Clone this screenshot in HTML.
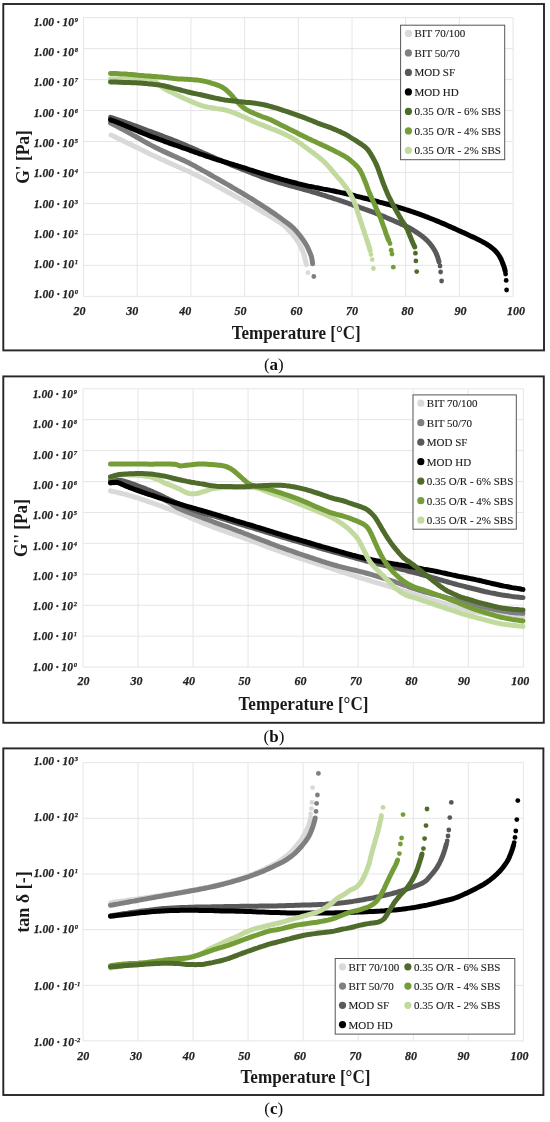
<!DOCTYPE html>
<html lang="en"><head><meta charset="utf-8"><title>Figure</title>
<style>
html,body{margin:0;padding:0;background:#fff}
svg{display:block}
text{font-family:"Liberation Serif", "DejaVu Serif", serif;fill:#222}
.yl{font-size:11.5px;font-weight:bold;font-style:italic;stroke:#222;stroke-width:0.25px}
.sup{font-size:6.5px}
.xl{font-size:12px;font-weight:bold;font-style:italic;text-anchor:middle;stroke:#222;stroke-width:0.25px}
.at{font-size:18px;font-weight:bold;text-anchor:middle;fill:#1a1a1a}
.lg{font-size:11px;fill:#1c1c1c;stroke:#1c1c1c;stroke-width:0.12px}
.cap{font-size:17px;text-anchor:middle;fill:#111}
</style></head><body>
<svg width="550" height="1122" viewBox="0 0 550 1122">
<rect width="550" height="1122" fill="#fff"/>
<rect x="3.3" y="4" width="540.7" height="346.4" fill="#fff" stroke="#262626" stroke-width="1.9"/>
<path d="M83.5 17.6V296.4M137.2 17.6V296.4M190.9 17.6V296.4M244.6 17.6V296.4M298.3 17.6V296.4M352 17.6V296.4M405.7 17.6V296.4M459.4 17.6V296.4M513.1 17.6V296.4M83.5 17.6H513.1M83.5 48.6H513.1M83.5 79.6H513.1M83.5 110.5H513.1M83.5 141.5H513.1M83.5 172.5H513.1M83.5 203.5H513.1M83.5 234.4H513.1M83.5 265.4H513.1M83.5 296.4H513.1" fill="none" stroke="#e3e3e3" stroke-width="0.9"/>
<text x="33.8" y="25.7" class="yl">1.00 · 10<tspan class="sup" dx="0.8" dy="-4">9</tspan></text>
<text x="33.8" y="56" class="yl">1.00 · 10<tspan class="sup" dx="0.8" dy="-4">8</tspan></text>
<text x="33.8" y="86.3" class="yl">1.00 · 10<tspan class="sup" dx="0.8" dy="-4">7</tspan></text>
<text x="33.8" y="116.6" class="yl">1.00 · 10<tspan class="sup" dx="0.8" dy="-4">6</tspan></text>
<text x="33.8" y="146.9" class="yl">1.00 · 10<tspan class="sup" dx="0.8" dy="-4">5</tspan></text>
<text x="33.8" y="177.2" class="yl">1.00 · 10<tspan class="sup" dx="0.8" dy="-4">4</tspan></text>
<text x="33.8" y="207.5" class="yl">1.00 · 10<tspan class="sup" dx="0.8" dy="-4">3</tspan></text>
<text x="33.8" y="237.8" class="yl">1.00 · 10<tspan class="sup" dx="0.8" dy="-4">2</tspan></text>
<text x="33.8" y="268.1" class="yl">1.00 · 10<tspan class="sup" dx="0.8" dy="-4">1</tspan></text>
<text x="33.8" y="298.4" class="yl">1.00 · 10<tspan class="sup" dx="0.8" dy="-4">0</tspan></text>
<text x="79.6" y="315.2" class="xl">20</text>
<text x="132.3" y="315.2" class="xl">30</text>
<text x="185.2" y="315.2" class="xl">40</text>
<text x="240.4" y="315.2" class="xl">50</text>
<text x="296.4" y="315.2" class="xl">60</text>
<text x="352" y="315.2" class="xl">70</text>
<text x="407.5" y="315.2" class="xl">80</text>
<text x="460.4" y="315.2" class="xl">90</text>
<text x="516" y="315.2" class="xl">100</text>
<text x="296.2" y="339.1" class="at" textLength="129" lengthAdjust="spacingAndGlyphs">Temperature [°C]</text>
<text transform="translate(28.9 157) rotate(-90)" class="at" textLength="53.7" lengthAdjust="spacingAndGlyphs">G' [Pa]</text>
<polyline points="111,135 112.3,135.6 114.1,136.5 116.3,137.5 118.6,138.7 121,139.8 123.3,140.9 125.4,141.9 127.5,142.9 129.5,143.9 131.4,144.8 133.3,145.7 135.2,146.7 137.3,147.7 139.2,148.6 141.1,149.6 143.1,150.6 145,151.5 147,152.5 149,153.5 150.9,154.4 152.8,155.3 154.6,156.1 156.4,157 158.2,157.8 160,158.7 161.8,159.5 163.6,160.3 165.7,161.2 167.7,162.2 169.7,163.1 171.8,164 174,165 176.3,166 178.2,166.9 180.2,167.8 182.3,168.7 184.5,169.7 186.7,170.6 188.8,171.6 190.8,172.5 192.7,173.4 194.7,174.4 196.6,175.3 198.4,176.1 200.1,177 201.9,177.9 203.6,178.8 205.4,179.7 207.2,180.7 209.1,181.6 210.9,182.6 212.7,183.7 214.5,184.7 216.4,185.7 218.2,186.7 220,187.7 221.8,188.7 223.6,189.7 225.5,190.8 227.3,191.8 229.1,192.8 230.9,193.8 232.7,194.8 234.5,195.8 236.3,196.8 238.2,197.8 240,198.8 241.8,199.8 243.6,200.8 245.4,201.8 247.2,202.9 249,203.9 250.9,204.9 252.7,206 254.5,207 256.3,208.1 258.1,209.2 260,210.3 261.8,211.4 263.6,212.5 265.4,213.6 267.3,214.7 269.1,215.8 271,216.9 272.9,218.1 274.8,219.3 276.7,220.4 278.5,221.6 280.3,222.7 281.8,223.8 283.7,225.3 285.3,226.7 286.7,228.1 288,229.5 289.4,230.9 290.8,232.4 292.1,233.9 293.4,235.4 294.6,237 295.8,238.6 297.2,240.7 298.5,242.8 299.8,244.9 300.9,247 301.9,249.2 302.8,251.3 303.6,253.4 304.2,255.3 304.9,258.2 305.4,260.6 306,262.9 306.5,264.6" fill="none" stroke="#d9d9d9" stroke-width="5" stroke-linecap="round" stroke-linejoin="round"/>
<circle cx="308" cy="272.7" r="2.4" fill="#d9d9d9"/>
<polyline points="110.5,123 111.8,123.7 113.8,124.7 116,125.8 118,126.9 119.8,127.8 121.4,128.7 123.2,129.6 125.4,130.8 127.1,131.7 129,132.8 131,133.9 133,135.1 135.2,136.3 137.3,137.5 139.2,138.5 141.1,139.6 143.1,140.8 145,141.9 147,143 149,144.1 150.9,145.1 152.8,146.1 154.6,147 156.4,147.9 158.2,148.8 160,149.7 161.8,150.5 163.6,151.4 165.8,152.4 168,153.4 170.2,154.4 172.4,155.4 174.4,156.3 176.3,157.1 178.8,158.2 181,159.2 183,160.1 185,161 186.9,161.9 188.6,162.8 190.4,163.7 192.7,164.9 194.3,165.7 196,166.7 197.8,167.7 199.7,168.7 201.6,169.8 203.5,170.9 205.4,171.9 207.2,172.9 209.1,174 210.9,175 212.7,176.1 214.5,177.1 216.4,178.2 218.2,179.2 220,180.2 221.8,181.3 223.6,182.3 225.5,183.4 227.3,184.4 229.1,185.4 230.9,186.5 232.7,187.6 234.5,188.6 236.3,189.7 238.2,190.8 240,191.8 241.8,192.9 243.6,194 245.4,195.1 247.2,196.2 249,197.3 250.9,198.4 252.7,199.5 254.5,200.7 256.3,201.8 258.1,203 260,204.1 261.8,205.3 263.6,206.5 265.4,207.7 267.3,208.9 269.1,210.1 270.9,211.3 272.8,212.6 274.7,213.9 276.5,215.2 278.4,216.5 280.1,217.8 281.8,219 283.7,220.4 285.5,221.7 287.2,222.9 288.9,224.2 290.5,225.5 292,226.8 293.7,228.4 295.3,230.1 296.8,231.7 298.2,233.5 299.6,235.2 301,237 302.4,238.9 303.7,240.8 304.9,242.7 306,244.5 307.2,246.6 308.2,248.6 309,250.5 309.8,252.3 310.6,254.4 311.3,256.2 311.8,258.1 312.3,261.3 312.6,263.8" fill="none" stroke="#7f7f7f" stroke-width="5" stroke-linecap="round" stroke-linejoin="round"/>
<circle cx="313.8" cy="276.5" r="2.4" fill="#7f7f7f"/>
<polyline points="110.5,117.4 112.4,118 115.2,118.9 118,119.8 120.3,120.6 122.6,121.4 125.4,122.4 127.1,123 129,123.7 131,124.4 133,125.2 135.2,125.9 137.3,126.7 139.2,127.4 141.1,128.1 143.1,128.8 145,129.5 147,130.3 149,131 150.9,131.7 153.1,132.5 155.2,133.3 157.3,134.1 159.4,134.9 161.5,135.7 163.6,136.5 165.7,137.3 167.8,138.1 169.9,138.9 172.1,139.7 174.2,140.6 176.3,141.4 178.4,142.3 180.6,143.1 182.7,144 184.8,144.9 187,145.8 189.1,146.7 191.2,147.6 193.3,148.5 195.5,149.5 197.6,150.4 199.7,151.4 201.8,152.3 203.9,153.2 206,154.1 208.2,155.1 210.3,156 212.4,156.9 214.5,157.8 216.6,158.7 218.5,159.5 220.5,160.4 222.6,161.3 224.8,162.2 227.2,163.2 229,163.9 231,164.8 233.1,165.6 235.3,166.5 237.5,167.4 239.7,168.2 241.7,169.1 243.6,169.8 245.3,170.5 247.8,171.5 249.8,172.3 251.5,173 253.3,173.7 255.4,174.5 257.4,175.2 259.5,176 261.6,176.8 263.8,177.6 266,178.4 268.2,179.1 270.3,179.8 272.4,180.5 274.6,181.2 276.7,181.8 278.8,182.5 280.9,183.1 283,183.7 285.1,184.3 287.2,184.9 289.4,185.5 291.5,186 293.6,186.6 295.7,187.2 297.8,187.7 299.9,188.3 302,188.9 304.1,189.5 306.3,190.1 308.2,190.6 310.2,191.2 312.2,191.8 314.1,192.4 316.1,192.9 318.1,193.5 320,194.1 322.2,194.8 324.3,195.4 326.4,196.1 328.5,196.8 330.6,197.4 332.7,198.1 334.8,198.8 336.9,199.5 339,200.2 341.2,200.9 343.3,201.6 345.4,202.3 347.5,203 349.7,203.8 351.8,204.5 353.9,205.3 356.1,206 358.2,206.8 360.3,207.6 362.4,208.3 364.6,209.1 366.7,209.8 368.8,210.6 370.9,211.4 373,212.2 375.1,213 377.2,213.8 379.4,214.7 381.5,215.5 383.6,216.4 385.7,217.3 387.8,218.2 389.9,219.1 392.1,220 394.2,221 396.3,221.9 398.1,222.7 400,223.5 401.9,224.4 403.8,225.2 405.6,226.1 407.4,226.9 409.1,227.8 411.3,229 413.5,230.3 415.5,231.6 417.4,232.9 419.2,234.1 421.2,235.5 422.9,236.8 424.5,238.2 426,239.5 427.8,241.3 429.5,243.1 431,245 432.5,247 433.8,249 435,251 436,253 436.9,255.1 437.6,257 438.5,259.9 439,262" fill="none" stroke="#595959" stroke-width="5" stroke-linecap="round" stroke-linejoin="round"/>
<circle cx="440" cy="266" r="2.4" fill="#595959"/>
<circle cx="440.6" cy="272" r="2.4" fill="#595959"/>
<circle cx="441.6" cy="281" r="2.4" fill="#595959"/>
<polyline points="110.5,119.8 111.8,120.3 113.8,121 116,121.8 118,122.6 119.8,123.3 121.4,124 123.2,124.8 125.4,125.7 127.1,126.4 129,127.2 131,128.1 133,129 135.2,129.9 137.3,130.8 139.2,131.6 141.1,132.4 143.1,133.2 145,134 147,134.8 149,135.6 150.9,136.3 153.1,137.1 155.2,137.9 157.3,138.7 159.4,139.5 161.5,140.2 163.6,141 165.7,141.8 167.8,142.5 169.9,143.3 172.1,144 174.2,144.8 176.3,145.5 178.4,146.2 180.6,147 182.7,147.8 184.8,148.5 187,149.2 189.1,150 191.2,150.8 193.3,151.5 195.5,152.3 197.6,153 199.7,153.8 201.8,154.5 203.9,155.2 206,156 208.2,156.7 210.3,157.4 212.4,158.1 214.5,158.8 216.6,159.5 218.6,160.1 220.7,160.7 222.8,161.3 224.9,162 227.2,162.7 229,163.3 230.9,163.9 232.9,164.5 234.9,165.1 237,165.7 239,166.3 240.9,166.9 242.7,167.5 245,168.2 247.1,168.9 249.2,169.6 251.3,170.2 253.3,170.8 255.4,171.5 257.5,172.2 259.7,172.8 261.8,173.5 263.9,174.1 266.1,174.8 268.2,175.4 270.3,176 272.4,176.7 274.6,177.3 276.7,177.9 278.8,178.5 280.9,179.1 283,179.7 285.1,180.3 287.2,180.8 289.4,181.4 291.5,182 293.6,182.5 295.7,183 297.8,183.6 299.9,184.1 302.1,184.6 304.2,185.1 306.3,185.6 308.4,186.1 310.5,186.5 312.6,186.9 314.8,187.4 316.9,187.8 319.1,188.2 321.3,188.6 323.6,189.1 325.9,189.5 328.2,189.9 330.5,190.4 332.7,190.8 334.9,191.2 337,191.7 339.1,192.1 341.2,192.6 343.3,193 345.4,193.5 347.5,194 349.7,194.5 351.8,195 353.9,195.5 356.1,196.1 358.2,196.6 360.3,197.1 362.4,197.7 364.6,198.2 366.7,198.7 368.8,199.3 370.9,199.8 373,200.4 375.1,200.9 377.2,201.5 379.4,202.1 381.5,202.6 383.6,203.2 385.7,203.8 387.8,204.3 389.9,204.9 392.1,205.5 394.2,206.1 396.3,206.7 398.4,207.3 400.6,208 402.8,208.6 405,209.3 407.1,210 409.1,210.6 411.4,211.4 413.6,212.1 415.8,212.9 417.9,213.6 420,214.4 422.1,215.2 424.1,215.9 426,216.7 428,217.4 430,218.2 432,219 434,219.8 436,220.6 438,221.4 440,222.2 442,223.1 444,223.9 446,224.8 448,225.7 450,226.6 452,227.5 454,228.4 456,229.3 458,230.2 460,231.1 462,232 464,232.9 466,233.8 468,234.8 470,235.7 472,236.6 474.1,237.6 476.1,238.5 478.1,239.5 480,240.4 482.2,241.6 484.2,242.7 486.2,243.9 488,245 490.2,246.5 492.2,248.1 494,249.6 496.2,251.8 498,254 499.6,256.5 501,259 502.1,261.6 503,264 503.8,266.1 504.4,268 505.2,271" fill="none" stroke="#000000" stroke-width="5" stroke-linecap="round" stroke-linejoin="round"/>
<circle cx="505.6" cy="274" r="2.4" fill="#000000"/>
<circle cx="506.2" cy="280.4" r="2.4" fill="#000000"/>
<circle cx="506.6" cy="290" r="2.4" fill="#000000"/>
<polyline points="110.5,78.9 111.8,78.9 113.5,78.9 115.5,78.9 117.8,78.9 120.2,78.9 122.7,78.9 125.2,78.9 127.7,79 130,79 132.1,79 134.2,78.9 136.4,78.9 138.7,78.8 140.9,78.7 143.1,78.7 145.2,78.7 147.2,78.9 149.1,79.1 150.9,79.5 153.1,80.3 155.1,81.5 156.9,82.8 158.6,84.3 160.2,85.7 161.9,87.1 163.6,88.3 165.4,89.3 167.2,90.3 169,91.2 170.9,92.1 172.7,93 174.5,93.8 176.3,94.7 178.1,95.6 180,96.4 181.8,97.3 183.6,98.2 185.4,99 187.3,99.8 189.1,100.6 191.2,101.5 193.3,102.4 195.5,103.3 197.6,104.1 199.7,104.9 201.8,105.6 203.9,106.2 206,106.7 208.2,107.1 210.3,107.4 212.4,107.8 214.5,108.2 216.6,108.6 218.6,108.9 220.7,109.1 222.8,109.5 224.9,109.9 227.2,110.5 229,111.1 230.9,111.7 232.9,112.5 234.9,113.3 237,114.1 239,114.9 240.9,115.7 242.7,116.5 245,117.5 247.1,118.5 249.2,119.5 251.3,120.4 253.3,121.4 255.4,122.3 257.5,123.2 259.7,124.1 261.8,124.9 263.9,125.7 266.1,126.6 268.2,127.4 270.3,128.2 272.4,129.1 274.6,129.9 276.7,130.7 278.8,131.6 280.9,132.5 282.7,133.3 284.5,134.2 286.3,135 288.2,135.9 290,136.9 291.8,137.8 293.6,138.9 295.4,140 297.2,141.2 299,142.5 300.9,143.8 302.7,145.1 304.5,146.5 306.3,147.8 307.9,149 309.6,150.2 311.3,151.5 313,152.7 314.6,154 316.2,155.2 317.7,156.4 319.1,157.5 321.1,159.2 322.8,160.7 324.5,162.2 326,163.8 327.6,165.4 329.2,167.1 330.7,168.9 332.3,170.8 333.8,172.6 335.3,174.4 336.8,176.2 338.4,178 340,179.7 341.5,181.5 342.9,183.3 344.3,185.1 345.6,186.8 346.9,188.6 348.1,190.3 349.3,192.2 350.4,194.1 351.5,196.1 352.5,198.1 353.5,200.2 354.4,202.3 355.1,204.1 355.8,206 356.4,208 357,209.9 357.6,211.9 358.2,213.8 358.8,215.7 359.5,217.6 360.1,219.5 360.7,221.4 361.4,223.3 362,225.2 362.6,227.2 363.3,229.2 364,231.2 364.6,233.2 365.2,235 365.8,236.7 366.5,238.9 367.2,240.8 367.8,242.6 368.3,244.3 369,246.8 369.7,249.1 370.1,250.7" fill="none" stroke="#c2da9e" stroke-width="5" stroke-linecap="round" stroke-linejoin="round"/>
<circle cx="370.9" cy="254.5" r="2.4" fill="#c2da9e"/>
<circle cx="372.2" cy="259.6" r="2.4" fill="#c2da9e"/>
<circle cx="373.4" cy="268.5" r="2.4" fill="#c2da9e"/>
<polyline points="110.5,73.4 111.9,73.5 113.7,73.5 116,73.6 118.4,73.7 120.9,73.9 123.3,74 125.4,74.1 127.7,74.3 129.8,74.4 131.9,74.6 134,74.8 136.1,75 138.2,75.2 140.3,75.4 142.4,75.6 144.6,75.8 146.7,75.9 148.8,76.1 150.9,76.3 153,76.5 155.1,76.6 157.2,76.7 159.4,76.9 161.5,77 163.6,77.2 165.7,77.4 167.8,77.7 169.9,78 172.1,78.2 174.2,78.5 176.3,78.7 178.4,78.9 180.6,79 182.7,79.1 184.8,79.2 187,79.3 189.1,79.4 191.3,79.6 193.4,79.7 195.6,79.9 197.8,80.1 199.8,80.4 201.8,80.7 204,81.1 206.1,81.6 208,82.1 210,82.7 212,83.3 214.1,83.9 216.2,84.6 218.2,85.3 220.2,86.2 222.1,87.1 224.2,88.5 226.3,90.1 228.1,91.8 229.8,93.4 231.2,94.9 232.5,96.3 233.7,97.8 235.1,99.4 236.5,100.9 238,102.5 239.5,104.2 241.1,105.7 242.7,107.1 244.6,108.5 246.4,109.6 248.3,110.6 250.4,111.7 252.3,112.6 254.3,113.5 256.3,114.3 258.4,115.2 260.5,116 262.5,116.8 264.6,117.5 266.6,118.2 268.7,119 270.7,119.8 272.7,120.7 274.7,121.7 276.6,122.7 278.7,123.8 280.9,124.9 282.6,125.7 284.3,126.6 286.2,127.5 288,128.4 289.9,129.4 291.8,130.3 293.6,131.2 295.4,132.1 297.2,133 299,134 300.9,134.9 302.7,135.8 304.5,136.7 306.3,137.6 308.1,138.5 310,139.3 311.8,140.2 313.6,141 315.4,141.8 317.3,142.7 319.1,143.5 320.9,144.4 322.7,145.2 324.5,146.1 326.4,146.9 328.2,147.8 330,148.7 331.8,149.6 333.7,150.5 335.6,151.5 337.5,152.4 339.4,153.4 341.2,154.4 343,155.3 344.5,156.2 346.8,157.6 348.6,158.9 350.3,160.3 352.1,161.8 353.6,163.1 355.1,164.6 356.7,166 358.1,167.7 359.4,169.4 360.6,171.3 361.6,173.3 362.6,175.4 363.5,177.7 364.5,180 365.2,181.8 366,183.7 366.7,185.6 367.4,187.6 368.1,189.6 368.9,191.6 369.6,193.4 370.5,195.4 371.3,197.4 372.2,199.3 373,201.1 373.9,203 374.7,204.9 375.6,206.8 376.4,208.8 377.3,210.7 378.2,212.6 379,214.5 379.8,216.3 380.7,218.4 381.4,220.5 382.2,222.6 382.9,224.6 383.6,226.5 384.5,228.9 385.3,231.3 386,233.5 386.7,235.4 387.9,238.5 388.7,240.5" fill="none" stroke="#749d38" stroke-width="5" stroke-linecap="round" stroke-linejoin="round"/>
<circle cx="390" cy="243.5" r="2.4" fill="#749d38"/>
<circle cx="391.2" cy="250.2" r="2.4" fill="#749d38"/>
<circle cx="392" cy="254" r="2.4" fill="#749d38"/>
<circle cx="393.3" cy="267.2" r="2.4" fill="#749d38"/>
<polyline points="110.5,81.9 111.9,82 113.7,82 116,82.1 118.4,82.2 120.9,82.3 123.3,82.4 125.4,82.5 127.7,82.6 129.8,82.6 131.9,82.7 134,82.7 136.1,82.8 138.2,82.9 140.3,83 142.4,83.2 144.6,83.4 146.7,83.6 148.8,83.9 150.9,84.1 153,84.3 155.1,84.6 157.2,84.8 159.4,85.1 161.5,85.4 163.6,85.8 165.7,86.2 167.8,86.7 169.9,87.2 172.1,87.8 174.2,88.4 176.3,88.9 178.4,89.4 180.6,90 182.7,90.6 184.8,91.1 187,91.7 189.1,92.2 191.2,92.7 193.3,93.2 195.5,93.6 197.6,94.1 199.7,94.5 201.8,95 203.9,95.5 206,96 208.2,96.5 210.3,97 212.4,97.5 214.5,98 216.6,98.4 218.6,98.8 220.7,99.2 222.8,99.6 224.9,100 227.2,100.3 229.3,100.6 231.5,100.8 233.8,101.1 236.1,101.3 238.4,101.6 240.6,101.8 242.7,102 245,102.2 247.1,102.4 249.2,102.6 251.3,102.8 253.3,103 255.4,103.3 257.5,103.6 259.7,104 261.8,104.4 263.9,104.8 266.1,105.3 268.2,105.8 270.3,106.4 272.4,107 274.6,107.6 276.7,108.2 278.8,108.9 280.9,109.6 283,110.3 285.1,111 287.2,111.7 289.4,112.4 291.5,113.2 293.6,113.9 295.7,114.6 297.8,115.4 299.9,116.2 302.1,116.9 304.2,117.7 306.3,118.5 308.4,119.3 310.6,120.2 312.7,121 314.8,121.9 317,122.8 319.1,123.6 321.2,124.4 323.3,125.1 325.5,125.9 327.6,126.6 329.7,127.4 331.8,128.2 334,129.1 336.2,130 338.4,131 340.6,131.9 342.6,132.9 344.5,133.8 346.5,134.9 348.3,135.9 349.9,137 351.5,138 353.1,139 355.1,140.2 357,141.4 358.9,142.6 360.7,143.8 362.4,145 364.1,146.2 365.6,147.4 367.1,148.9 368.5,150.6 369.7,152.4 371,154.4 372.2,156.5 373.2,158.3 374.2,160.2 375.3,162.2 376.3,164.4 377.3,166.7 378,168.5 378.7,170.5 379.4,172.5 380.2,174.6 380.9,176.7 381.6,178.7 382.3,180.7 383.1,182.9 383.9,185 384.8,187.1 385.6,189.2 386.5,191.3 387.4,193.4 388.2,195.2 389.1,197.1 390.1,199 391,200.8 391.9,202.6 392.9,204.4 393.8,206.2 394.9,208.2 395.9,210.1 397,212.1 398.1,213.9 399.1,215.8 400.2,217.6 401.5,219.7 402.8,221.8 404.2,223.9 405.4,225.9 406.5,227.8 407.7,230.2 408.6,232.5 409.5,234.7 410.3,236.7 411.3,239.1 412.1,241.3 412.9,243.1 414,245.4 414.7,246.9" fill="none" stroke="#4f6b2b" stroke-width="5" stroke-linecap="round" stroke-linejoin="round"/>
<circle cx="415.4" cy="253.2" r="2.4" fill="#4f6b2b"/>
<circle cx="415.9" cy="260.9" r="2.4" fill="#4f6b2b"/>
<circle cx="416.7" cy="271.6" r="2.4" fill="#4f6b2b"/>
<rect x="400.6" y="25.2" width="104.1" height="134.5" fill="#fff" stroke="#555" stroke-width="1"/>
<circle cx="408.4" cy="33.4" r="3.6" fill="#d9d9d9"/>
<text x="414.4" y="37.3" class="lg">BIT 70/100</text>
<circle cx="408.4" cy="52.9" r="3.6" fill="#7f7f7f"/>
<text x="414.4" y="56.8" class="lg">BIT 50/70</text>
<circle cx="408.4" cy="72.4" r="3.6" fill="#595959"/>
<text x="414.4" y="76.3" class="lg">MOD SF</text>
<circle cx="408.4" cy="91.9" r="3.6" fill="#000000"/>
<text x="414.4" y="95.8" class="lg">MOD HD</text>
<circle cx="408.4" cy="111.4" r="3.6" fill="#4f6b2b"/>
<text x="414.4" y="115.3" class="lg">0.35 O/R - 6% SBS</text>
<circle cx="408.4" cy="130.9" r="3.6" fill="#749d38"/>
<text x="414.4" y="134.8" class="lg">0.35 O/R - 4% SBS</text>
<circle cx="408.4" cy="150.4" r="3.6" fill="#c2da9e"/>
<text x="414.4" y="154.3" class="lg">0.35 O/R - 2% SBS</text>
<text x="273.8" y="369.7" class="cap">(<tspan font-weight="bold">a</tspan>)</text>
<rect x="3.3" y="376.4" width="540.5" height="346.4" fill="#fff" stroke="#262626" stroke-width="1.9"/>
<path d="M83 388.8V667.1M138.1 388.8V667.1M193.1 388.8V667.1M248.1 388.8V667.1M303.2 388.8V667.1M358.2 388.8V667.1M413.3 388.8V667.1M468.3 388.8V667.1M523.4 388.8V667.1M83 388.8H523.4M83 419.7H523.4M83 450.6H523.4M83 481.6H523.4M83 512.5H523.4M83 543.4H523.4M83 574.3H523.4M83 605.3H523.4M83 636.2H523.4M83 667.1H523.4" fill="none" stroke="#e3e3e3" stroke-width="0.9"/>
<text x="32.8" y="398.1" class="yl">1.00 · 10<tspan class="sup" dx="0.8" dy="-4">9</tspan></text>
<text x="32.8" y="428.4" class="yl">1.00 · 10<tspan class="sup" dx="0.8" dy="-4">8</tspan></text>
<text x="32.8" y="458.6" class="yl">1.00 · 10<tspan class="sup" dx="0.8" dy="-4">7</tspan></text>
<text x="32.8" y="488.9" class="yl">1.00 · 10<tspan class="sup" dx="0.8" dy="-4">6</tspan></text>
<text x="32.8" y="519.2" class="yl">1.00 · 10<tspan class="sup" dx="0.8" dy="-4">5</tspan></text>
<text x="32.8" y="549.5" class="yl">1.00 · 10<tspan class="sup" dx="0.8" dy="-4">4</tspan></text>
<text x="32.8" y="579.7" class="yl">1.00 · 10<tspan class="sup" dx="0.8" dy="-4">3</tspan></text>
<text x="32.8" y="610" class="yl">1.00 · 10<tspan class="sup" dx="0.8" dy="-4">2</tspan></text>
<text x="32.8" y="640.3" class="yl">1.00 · 10<tspan class="sup" dx="0.8" dy="-4">1</tspan></text>
<text x="32.8" y="670.5" class="yl">1.00 · 10<tspan class="sup" dx="0.8" dy="-4">0</tspan></text>
<text x="83.6" y="685.2" class="xl">20</text>
<text x="136.5" y="685.2" class="xl">30</text>
<text x="189.1" y="685.2" class="xl">40</text>
<text x="244.6" y="685.2" class="xl">50</text>
<text x="300.5" y="685.2" class="xl">60</text>
<text x="356" y="685.2" class="xl">70</text>
<text x="411.5" y="685.2" class="xl">80</text>
<text x="464.1" y="685.2" class="xl">90</text>
<text x="520.2" y="685.2" class="xl">100</text>
<text x="303.5" y="709.6" class="at" textLength="130" lengthAdjust="spacingAndGlyphs">Temperature [°C]</text>
<text transform="translate(26.9 528) rotate(-90)" class="at" textLength="57.8" lengthAdjust="spacingAndGlyphs">G'' [Pa]</text>
<polyline points="110.5,490.9 111.9,491.2 113.7,491.6 116,492.1 118.4,492.7 120.9,493.3 123.3,493.9 125.4,494.4 127.7,495 129.8,495.6 131.9,496.2 134,496.9 136.1,497.5 138.2,498.2 140.3,498.9 142.4,499.6 144.6,500.3 146.7,501 148.8,501.8 150.9,502.5 153,503.2 155.1,504 157.2,504.7 159.4,505.5 161.5,506.2 163.6,507 165.7,507.8 167.8,508.6 169.9,509.4 172.1,510.2 174.2,511.1 176.3,511.9 178.4,512.8 180.6,513.6 182.7,514.5 184.8,515.4 187,516.3 189.1,517.2 191.2,518.1 193.3,519 195.5,519.9 197.6,520.8 199.7,521.7 201.8,522.6 203.9,523.5 206,524.3 208.2,525.2 210.3,526 212.4,526.8 214.5,527.6 216.6,528.4 218.7,529.2 220.8,529.9 223,530.7 225.1,531.4 227.2,532.2 229.4,533 231.6,533.7 233.8,534.5 235.9,535.2 238,535.9 240,536.6 242.2,537.4 244.2,538.1 246.1,538.8 248,539.5 250,540.2 252,540.9 254,541.7 256,542.5 258,543.2 260,544 262,544.8 264,545.5 266,546.3 268,547.1 270,547.8 272,548.5 274,549.3 276,550 278,550.7 280,551.4 282,552.1 284,552.8 286,553.5 288,554.2 290,554.9 292,555.6 294,556.3 296,557 298,557.6 300,558.3 302,559 304,559.6 306,560.2 308,560.9 310,561.5 312,562.1 314,562.8 316,563.4 318,564.1 320,564.7 322,565.4 324,566 326,566.7 328,567.3 330,568 332,568.7 334,569.3 336,570 338,570.6 340,571.3 342,571.9 344,572.6 346,573.2 348,573.9 350,574.5 352.4,575.3 354.9,576 357.2,576.8 359.5,577.5 361.6,578.2 363.7,578.8 365.7,579.4 367.7,580 369.8,580.6 371.8,581.3 373.8,581.9 375.9,582.5 377.9,583.1 380,583.7 382.1,584.3 384.1,584.9 386.2,585.5 388.2,586.1 390.3,586.8 392.3,587.4 394.4,588 396.6,588.7 398.7,589.3 400.5,589.9 402.8,590.6 405,591.4 406.8,592 408.9,592.6 411.1,593.3 413.2,594 415.3,594.7 417.3,595.3 419.4,596 421.4,596.6 423.4,597.2 425.4,597.9 427.5,598.5 429.5,599.1 431.5,599.7 433.6,600.4 435.6,601 437.7,601.6 439.8,602.2 441.8,602.8 443.8,603.4 445.9,604 447.9,604.6 450,605.2 452.1,605.8 454.1,606.4 456.2,607 458.2,607.6 460.3,608.1 462.3,608.7 464.4,609.3 466.4,609.8 468.5,610.3 470.5,610.8 472.5,611.2 474.5,611.7 476.6,612 478.6,612.4 480.3,612.7 481.8,613 483.7,613.2 486.8,613.6 488.4,613.8 490.2,613.9 492.3,614.1 494.6,614.3 496.9,614.6 499.3,614.8 501.7,615 504,615.2 506.2,615.4 508.2,615.6 510,615.7 512.9,615.9 515.6,616.1 518,616.3 520,616.4 521.7,616.5 523,616.6" fill="none" stroke="#d9d9d9" stroke-width="5" stroke-linecap="round" stroke-linejoin="round"/>
<polyline points="110.5,483 112.4,482.8 115.1,482.5 117.8,482.6 119.6,483.1 121.3,483.8 123.1,484.6 125.4,485.6 127.2,486.3 129.3,487.2 131.5,488.1 133.7,489 136,489.9 138.2,490.7 140.3,491.4 142.4,492.1 144.6,492.7 146.7,493.3 148.8,493.9 150.9,494.6 153,495.3 155.1,496 157.2,496.7 159.4,497.5 161.5,498.3 163.6,499.3 165.5,500.3 167.5,501.4 169.5,502.7 171.5,503.9 173.3,505.1 175,506.2 176.3,507 178.4,508.3 180,509 181.8,509.8 184,510.6 186.4,511.6 189.1,512.6 191,513.3 193.1,514.1 195.2,515 197.4,515.8 199.6,516.7 201.8,517.5 203.9,518.3 206,519.1 208.2,519.9 210.3,520.7 212.4,521.5 214.5,522.3 216.6,523.1 218.7,523.8 220.8,524.6 223,525.4 225.1,526.1 227.2,526.9 229.4,527.7 231.6,528.5 233.8,529.3 235.9,530.2 238,531 240,531.7 242.2,532.5 244.2,533.3 246.1,534 248,534.7 250,535.5 252,536.3 254,537.1 256,537.8 258,538.6 260,539.4 262,540.2 264,540.9 266,541.7 268,542.4 270,543.2 272,544 274,544.7 276,545.5 278,546.3 280,547 282,547.7 284,548.4 286,549.1 288,549.8 290,550.5 292,551.2 294,551.9 296,552.6 298,553.3 300,554 302,554.7 304,555.3 306,556 308,556.6 310,557.3 312,558 314,558.6 316,559.3 318,559.9 320,560.6 322,561.3 324,561.9 326,562.6 328,563.2 330,563.8 332,564.4 334,565 336,565.5 338,566.1 340,566.6 342,567.1 344,567.6 346,568.1 348,568.6 350,569.1 352.4,569.7 354.9,570.3 357.2,570.8 359.5,571.4 361.6,571.9 363.7,572.4 365.7,573 367.7,573.5 369.8,574.1 371.8,574.7 373.8,575.3 375.9,575.9 377.9,576.5 380,577.1 382.1,577.8 384.1,578.4 386.2,579 388.2,579.7 390.3,580.3 392.3,581 394.4,581.7 396.6,582.5 398.7,583.2 400.5,583.8 402.8,584.6 405,585.4 406.8,586 408.9,586.8 411.1,587.6 413.2,588.3 415.3,589 417.3,589.6 419.4,590.3 421.4,590.9 423.4,591.5 425.4,592.1 427.5,592.6 429.5,593.2 431.5,593.8 433.6,594.3 435.6,594.9 437.7,595.4 439.8,595.9 441.8,596.4 443.8,597 445.9,597.5 447.9,598.1 450,598.6 452.1,599.2 454.1,599.8 456.2,600.3 458.2,600.9 460.3,601.4 462.3,601.9 464.4,602.4 466.4,603 468.5,603.5 470.5,604 472.5,604.5 474.5,605 476.6,605.4 478.6,605.9 480.5,606.4 482.4,606.8 484.4,607.3 486.8,607.8 488.7,608.2 490.9,608.7 493.3,609.2 495.7,609.7 497.9,610.2 500,610.6 502.2,611 504.1,611.3 505.9,611.6 507.9,611.9 510,612.2 512.1,612.4 514.6,612.7 517.1,612.9 519.5,613.1 521.6,613.3 523,613.4" fill="none" stroke="#7f7f7f" stroke-width="5" stroke-linecap="round" stroke-linejoin="round"/>
<polyline points="110.5,480.3 112.3,479.8 115.3,479.6 116.9,479.8 118.8,480.1 120.9,480.5 123.1,481 125.4,481.6 127.4,482.2 129.5,482.9 131.6,483.6 133.8,484.4 136,485.2 138.2,486 140.3,486.8 142.4,487.6 144.6,488.4 146.7,489.3 148.8,490.1 150.9,491 153,491.9 155.1,492.9 157.2,493.8 159.4,494.8 161.5,495.8 163.6,496.8 165.4,497.7 167.2,498.5 169,499.4 170.9,500.3 172.7,501.1 174.5,502 176.3,502.8 178.4,503.8 180.6,504.7 182.7,505.6 184.8,506.6 187,507.4 189.1,508.3 191.2,509.1 193.3,509.9 195.5,510.7 197.6,511.4 199.7,512.1 201.8,512.8 203.9,513.4 206,514 208.2,514.5 210.3,515.1 212.4,515.6 214.5,516.2 216.6,516.8 218.7,517.5 220.8,518.2 223,518.8 225.1,519.5 227.2,520.2 229.4,520.9 231.6,521.6 233.8,522.3 235.9,522.9 238,523.6 240,524.2 242.2,524.8 244.2,525.4 246.1,526 248,526.5 250,527.1 252,527.7 254,528.3 256,529 258,529.6 260,530.2 262,530.8 264,531.4 266,532.1 268,532.7 270,533.3 272,533.9 274,534.5 276,535.2 278,535.8 280,536.4 282,537 284,537.6 286,538.2 288,538.8 290,539.4 292,540 294,540.6 296,541.1 298,541.7 300,542.3 302,542.9 304,543.5 306,544 308,544.6 310,545.2 312,545.8 314,546.4 316,546.9 318,547.5 320,548.1 322,548.7 324,549.2 326,549.8 328,550.3 330,550.9 332,551.5 334,552 336,552.6 338,553.1 340,553.7 342,554.3 344,554.8 346,555.4 348,555.9 350,556.5 352.4,557.2 354.9,557.9 357.2,558.6 359.5,559.2 361.4,559.7 363.2,560.2 365.1,560.7 367.7,561.3 369.4,561.7 371.2,562.2 373.2,562.6 375.4,563.1 377.6,563.7 379.8,564.2 382,564.7 384.1,565.2 386.2,565.7 388.5,566.2 390.8,566.7 393,567.3 395.2,567.8 397.2,568.2 399,568.7 400.5,569 403.3,569.7 405,570.2 406.8,570.7 408.9,571.2 411.1,571.7 413.2,572.3 415.3,572.8 417.3,573.4 419.4,573.9 421.4,574.5 423.4,575 425.4,575.6 427.5,576.1 429.5,576.7 431.5,577.3 433.6,577.9 435.6,578.5 437.7,579.1 439.8,579.7 441.8,580.2 443.8,580.8 445.9,581.4 447.9,582 450,582.6 452.1,583.2 454.1,583.8 456.2,584.3 458.2,584.9 460.3,585.4 462.3,585.9 464.4,586.4 466.4,587 468.5,587.5 470.5,588 472.5,588.5 474.5,589 476.6,589.5 478.6,590 480.5,590.5 482.4,591 484.4,591.5 486.8,592 488.7,592.4 490.9,592.9 493.3,593.3 495.7,593.8 497.9,594.2 500,594.6 502.2,595 504.1,595.3 505.9,595.6 507.9,595.8 510,596.1 512.1,596.4 514.6,596.7 517.1,596.9 519.5,597.2 521.6,597.4 523,597.6" fill="none" stroke="#595959" stroke-width="5" stroke-linecap="round" stroke-linejoin="round"/>
<polyline points="110.5,482.8 112.4,482.6 115.1,482.4 117.8,482.6 119.6,483.1 121.3,483.9 123.1,484.8 125.4,485.8 127.2,486.5 129.3,487.3 131.5,488.1 133.7,489 136,489.8 138.2,490.6 140.3,491.4 142.4,492.1 144.6,492.8 146.7,493.6 148.8,494.3 150.9,495 153,495.7 155.1,496.4 157.2,497.1 159.4,497.8 161.5,498.5 163.6,499.2 165.7,499.9 167.8,500.5 169.9,501.2 172.1,501.8 174.2,502.5 176.3,503.1 178.4,503.7 180.6,504.4 182.7,505 184.8,505.7 187,506.3 189.1,506.9 191.2,507.5 193.3,508.1 195.5,508.7 197.6,509.3 199.7,509.9 201.8,510.5 203.9,511.1 206,511.7 208.2,512.3 210.3,512.9 212.4,513.6 214.5,514.2 216.6,514.8 218.7,515.5 220.8,516.1 223,516.8 225.1,517.4 227.2,518.1 229.4,518.8 231.6,519.4 233.8,520.1 235.9,520.8 238,521.4 240,522 242.2,522.6 244.2,523.2 246.1,523.8 248,524.3 250,524.9 252,525.5 254,526.1 256,526.8 258,527.4 260,528 262,528.6 264,529.2 266,529.9 268,530.5 270,531.1 272,531.7 274,532.3 276,533 278,533.6 280,534.2 282,534.8 284,535.4 286,536 288,536.6 290,537.2 292,537.8 294,538.4 296,538.9 298,539.5 300,540.1 302,540.7 304,541.3 306,541.8 308,542.4 310,543 312,543.6 314,544.2 316,544.8 318,545.4 320,546 322,546.6 324,547.1 326,547.7 328,548.2 330,548.8 332,549.4 334,550 336,550.5 338,551.1 340,551.7 342,552.3 344,552.8 346,553.4 348,554 350,554.5 352.4,555.2 354.9,555.8 357.2,556.4 359.5,557 361.6,557.5 363.7,558 365.7,558.5 367.7,558.9 369.8,559.3 371.8,559.8 373.8,560.2 375.9,560.6 377.9,561 380,561.4 382.1,561.7 384.1,562.1 386.2,562.5 388.2,562.9 390.3,563.2 392.3,563.6 394.4,564 396.6,564.3 398.7,564.7 400.5,565 402.8,565.4 405,565.8 406.8,566.1 408.9,566.5 411.1,566.8 413.2,567.2 415.3,567.6 417.3,568 419.4,568.3 421.4,568.7 423.4,569.1 425.4,569.4 427.5,569.7 429.5,570.1 431.5,570.5 433.6,570.9 435.6,571.3 437.7,571.7 439.8,572.1 441.8,572.6 443.8,573 445.9,573.5 447.9,574 450,574.4 452.1,574.9 454.1,575.3 456.2,575.7 458.2,576.2 460.3,576.6 462.3,577 464.4,577.4 466.4,577.8 468.5,578.2 470.5,578.6 472.5,579 474.5,579.4 476.6,579.9 478.6,580.3 480.5,580.7 482.4,581.2 484.4,581.6 486.8,582.2 488.7,582.6 490.9,583.2 493.3,583.7 495.7,584.2 497.9,584.7 500,585.2 502.2,585.7 504.1,586.1 505.9,586.4 507.9,586.8 510,587.2 512.1,587.6 514.6,588 517.1,588.4 519.5,588.8 521.6,589.2 523,589.4" fill="none" stroke="#000000" stroke-width="5" stroke-linecap="round" stroke-linejoin="round"/>
<polyline points="110.5,477 112.4,476.5 115.1,475.8 117.8,475.2 120.3,474.9 122.9,474.8 125.4,474.8 127.7,474.8 129.9,474.9 132,475 134.1,475.1 136.1,475.2 138.2,475.3 140.5,475.5 142.8,475.7 145,476 147.9,476.4 150.9,477 152.7,477.6 154.6,478.3 156.6,479.2 158.5,480 160.4,480.8 162.2,481.7 164.1,482.7 166.2,483.6 168.1,484.4 170.2,485.2 172.3,486 174.4,486.8 176.3,487.6 178.5,488.6 180.5,489.6 182.3,490.6 184,491.4 186.6,492.7 189.1,493.5 191.4,493.7 194.1,493.7 196.7,493.5 199.2,493 201.8,492.2 204.3,491.4 206.2,490.8 208,490.1 209.9,489.4 212,488.9 213.9,488.5 215.9,488.2 217.9,488 220,487.8 222.1,487.6 224.1,487.5 226.1,487.5 228,487.6 230.1,487.6 232.3,487.6 234.3,487.6 236.3,487.5 238.5,487.4 240.7,487.3 242.8,487.3 245,487.3 247.2,487.3 249.4,487.4 251.7,487.5 253.9,487.6 256,487.9 258,488.2 260.2,488.8 262.2,489.6 264.1,490.4 266,491.3 268.2,492.2 270.2,492.9 272.2,493.6 274.4,494.3 276.6,495 278.8,495.7 280.9,496.5 283,497.3 285.1,498.1 287.2,499 289.4,499.9 291.5,500.7 293.6,501.6 295.7,502.4 297.8,503.3 299.9,504.1 302.1,505 304.2,505.8 306.3,506.7 308.4,507.6 310.6,508.4 312.7,509.3 314.8,510.2 317,511.1 319.1,512 321.3,512.9 323.5,513.8 325.6,514.8 327.8,515.7 329.9,516.7 331.8,517.6 334,518.8 336,519.9 338,521.1 339.8,522.3 341.5,523.4 343.4,524.7 345.1,526 346.6,527.3 348.1,528.5 349.9,530.1 351.5,531.7 353,533.3 354.5,534.8 355.8,536.3 357.1,537.9 358.3,539.6 359.3,541.3 360.4,543.2 361.5,545.3 362.5,547.5 363.6,549.7 364.7,551.9 365.8,554.2 366.9,556.3 368,558.3 369,560.2 370.2,562 371.5,563.7 372.8,565.3 374.3,566.9 375.9,568.5 377.5,570.2 379.2,571.8 380.8,573.4 382.5,575.1 384.1,576.7 385.7,578.3 387.4,580 389,581.6 390.6,583.3 392.3,585 393.9,586.6 395.5,588.1 397.2,589.4 398.8,590.7 401.2,592.4 403.7,593.9 406.2,595.2 408.6,596.2 410.8,596.8 413.4,597.4 415.2,598 417.2,598.7 419.3,599.5 421.4,600.2 423.4,600.8 425.4,601.4 427.5,602.1 429.5,602.7 431.5,603.4 433.6,604.1 435.6,604.9 437.7,605.6 439.8,606.3 441.8,607 443.8,607.7 445.9,608.4 447.9,609.1 450,609.7 452.1,610.3 454.1,611 456.2,611.7 458.2,612.4 460.3,613.1 462.3,613.8 464.4,614.4 466.4,614.9 468.5,615.5 470.5,616 472.5,616.5 474.5,617.1 476.6,617.7 478.6,618.2 480.5,618.7 482.4,619.2 484.4,619.8 486.8,620.4 488.7,620.9 490.9,621.5 493.3,622 495.7,622.6 497.9,623.2 500,623.6 502.2,624 504.1,624.3 505.9,624.5 507.9,624.7 510,625 512.1,625.2 514.6,625.5 517.1,625.8 519.5,626 521.6,626.2 523,626.4" fill="none" stroke="#c2da9e" stroke-width="5" stroke-linecap="round" stroke-linejoin="round"/>
<polyline points="110.5,463.9 111.9,463.9 113.7,463.9 116,463.9 118.4,463.9 120.9,463.9 123.3,463.9 125.4,463.9 127.7,463.9 129.8,463.9 131.9,463.9 134,463.9 136.1,463.9 138.2,463.9 140.3,463.9 142.4,464 144.6,464.1 146.7,464.1 148.8,464.2 150.9,464.2 153,464.2 155.1,464.1 157.2,464 159.4,464 161.5,463.9 163.6,463.9 165.8,463.9 168.2,464 170.5,464.1 172.7,464.2 174.7,464.3 176.3,464.5 180,465.9 181.8,465.8 184.1,465.6 186.5,465.3 189.1,465 191.2,464.8 193.4,464.5 195.8,464.2 198.1,464 200.4,463.9 202.7,463.9 205,464 207.3,464.2 209.7,464.4 212,464.6 214.4,464.8 216.8,465 219.3,465.2 221.6,465.5 223.6,465.9 226.4,466.6 228.6,467.6 230.9,468.8 232.7,470 234.6,471.5 236.4,473 238.2,474.6 240.1,476.3 241.9,478 243.8,479.7 245.5,481.2 247.4,482.7 249.2,484 251.3,485 253.2,485.7 255.3,486.2 257.6,486.7 260,487.2 262,487.7 264,488.1 266.2,488.6 268.4,489.2 270.7,489.8 272.7,490.4 274.9,491.1 277.1,491.8 279.3,492.5 281.4,493.2 283.4,493.9 285.6,494.6 287.5,495.2 289.5,495.9 291.4,496.5 293.6,497.3 295.6,498 297.6,498.9 299.8,499.7 302,500.6 304.1,501.5 306.3,502.4 308.4,503.3 310.6,504.3 312.7,505.2 314.8,506.2 317,507.1 319.1,508 321.2,508.9 323.4,509.8 325.5,510.7 327.7,511.5 329.8,512.3 331.8,513 334.2,513.7 336.6,514.4 338.9,515 341.1,515.5 343.2,516.1 345.5,516.8 347.6,517.5 349.5,518.2 351.4,518.9 353.7,519.8 355.9,520.6 357.9,521.5 359.9,522.4 361.8,523.2 363.6,524.2 365.8,525.8 367.7,527.8 368.9,529.5 369.9,531.3 371,533.4 371.8,535.1 372.6,536.9 373.5,538.8 374.3,540.7 375.1,542.6 376,544.5 376.8,546.3 377.6,548.1 378.7,550.4 379.7,552.5 380.8,554.6 381.9,556.6 382.9,558.5 384.1,560.4 385.4,562.3 386.8,564.3 388.2,566.1 389.5,567.8 390.9,569.4 392.3,571 393.9,572.7 395.5,574.3 397.2,575.9 398.8,577.4 400.5,578.7 402.1,580 404.6,581.7 407,583.3 409.4,584.7 411.9,586 414.4,587.1 416.8,588 418.9,588.6 421.4,589.3 423.2,589.9 425.2,590.7 427.4,591.4 429.5,592.2 431.5,592.9 433.6,593.6 435.6,594.3 437.7,595 439.8,595.7 441.8,596.5 443.8,597.2 445.9,598 447.9,598.8 450,599.6 452.1,600.4 454.1,601.2 456.2,602 458.2,602.8 460.3,603.7 462.3,604.5 464.4,605.3 466.4,606.2 468.5,607 470.5,607.8 472.5,608.5 474.5,609.3 476.6,609.9 478.6,610.6 480.5,611.2 482.4,611.7 484.4,612.3 486.8,613 488.7,613.6 490.9,614.3 493.3,615 495.7,615.8 497.9,616.4 500,617 502.2,617.5 504.1,617.9 505.9,618.3 507.9,618.6 510,619 512.1,619.4 514.6,619.7 517.1,620.1 519.5,620.5 521.6,620.8 523,621" fill="none" stroke="#749d38" stroke-width="5" stroke-linecap="round" stroke-linejoin="round"/>
<polyline points="110.5,476.9 112.4,476.3 115.1,475.5 117.8,474.8 120.1,474.4 122.5,474.2 125.4,474 127.2,473.9 129.3,473.8 131.5,473.7 133.7,473.7 136,473.6 138.2,473.6 140.3,473.6 142.4,473.6 144.6,473.7 146.7,473.8 148.8,473.9 150.9,474.1 153,474.3 155.1,474.6 157.2,474.9 159.4,475.2 161.5,475.6 163.6,476 165.7,476.4 167.8,476.9 169.9,477.4 172.1,478 174.2,478.5 176.3,479 178.4,479.5 180.6,480 182.7,480.5 184.8,480.9 187,481.4 189.1,481.8 191.2,482.2 193.3,482.5 195.5,482.9 197.6,483.2 199.7,483.6 201.8,483.9 203.9,484.3 206,484.7 208.2,485.1 210.3,485.5 212.4,485.8 214.5,486.1 216.6,486.3 218.6,486.4 220.7,486.4 222.8,486.4 224.9,486.5 227.2,486.5 229.3,486.6 231.5,486.6 233.8,486.7 236.1,486.8 238.4,486.8 240.6,486.8 242.7,486.8 245,486.7 247.1,486.6 249.2,486.5 251.3,486.3 253.3,486.1 255.4,486 257.5,485.9 259.7,485.8 261.8,485.7 263.9,485.6 266.1,485.5 268.2,485.4 270.3,485.3 272.4,485.3 274.6,485.2 276.7,485.2 278.8,485.2 280.9,485.3 283,485.4 285.1,485.6 287.2,485.9 289.4,486.1 291.5,486.5 293.6,486.8 295.7,487.2 297.8,487.6 299.9,488.1 302.1,488.6 304.2,489.1 306.3,489.7 308.4,490.3 310.6,490.9 312.7,491.6 314.8,492.3 317,493 319.1,493.7 321.2,494.4 323.4,495.2 325.5,495.9 327.7,496.7 329.8,497.4 331.8,498 334.2,498.7 336.6,499.2 338.9,499.7 341.1,500.3 343.2,500.8 345.5,501.5 347.5,502.3 349.4,503 351.4,503.7 353.5,504.4 355.5,505 357.6,505.6 359.5,506.3 361.9,507.2 364.1,508.1 366.1,509.1 367.9,510.2 369.4,511.5 371,512.9 372.6,514.6 374.3,516.4 375.9,518.6 377.1,520.5 378.3,522.5 379.6,524.7 380.8,526.8 382,528.9 383.2,530.9 384.5,533 385.7,535 386.9,536.9 388.1,538.8 389.4,540.6 390.6,542.4 391.8,544.1 393.1,545.8 394.4,547.4 395.6,548.9 397.3,550.9 398.9,552.8 400.5,554.6 401.9,556.1 403.2,557.5 405,559 406.8,560.3 408.9,561.7 411.1,563.2 413.2,564.7 414.8,566 416.5,567.3 418.1,568.6 419.8,570 421.4,571.3 423,572.6 424.6,573.9 426.3,575.2 427.9,576.5 429.5,577.8 431.1,579.1 432.8,580.5 434.4,581.8 436.1,583.1 437.7,584.4 439.8,585.9 441.8,587.4 443.8,588.8 445.9,590.1 447.9,591.3 450,592.3 452.1,593.3 454.1,594.2 456.2,595.1 458.2,596 460.3,596.8 462.3,597.5 464.4,598.2 466.4,598.8 468.5,599.3 470.5,599.9 472.5,600.5 474.5,601.2 476.6,601.8 478.6,602.4 480.5,602.9 482.4,603.4 484.4,603.9 486.8,604.5 488.7,605 490.9,605.5 493.3,606.1 495.7,606.7 497.9,607.2 500,607.6 502.2,608 504.1,608.3 505.9,608.6 507.9,608.8 510,609 512.1,609.2 514.6,609.4 517.1,609.6 519.5,609.8 521.6,609.9 523,610" fill="none" stroke="#4f6b2b" stroke-width="5" stroke-linecap="round" stroke-linejoin="round"/>
<rect x="413" y="394.9" width="103.3" height="134.3" fill="#fff" stroke="#555" stroke-width="1"/>
<circle cx="420.8" cy="403.2" r="3.6" fill="#d9d9d9"/>
<text x="426.8" y="407.1" class="lg">BIT 70/100</text>
<circle cx="420.8" cy="422.7" r="3.6" fill="#7f7f7f"/>
<text x="426.8" y="426.6" class="lg">BIT 50/70</text>
<circle cx="420.8" cy="442.2" r="3.6" fill="#595959"/>
<text x="426.8" y="446.1" class="lg">MOD SF</text>
<circle cx="420.8" cy="461.7" r="3.6" fill="#000000"/>
<text x="426.8" y="465.6" class="lg">MOD HD</text>
<circle cx="420.8" cy="481.2" r="3.6" fill="#4f6b2b"/>
<text x="426.8" y="485.1" class="lg">0.35 O/R - 6% SBS</text>
<circle cx="420.8" cy="500.7" r="3.6" fill="#749d38"/>
<text x="426.8" y="504.6" class="lg">0.35 O/R - 4% SBS</text>
<circle cx="420.8" cy="520.2" r="3.6" fill="#c2da9e"/>
<text x="426.8" y="524.1" class="lg">0.35 O/R - 2% SBS</text>
<text x="273.9" y="741.8" class="cap">(<tspan font-weight="bold">b</tspan>)</text>
<rect x="3.3" y="748.4" width="540.1" height="346.6" fill="#fff" stroke="#262626" stroke-width="1.9"/>
<path d="M83 762.7V1040.9M138.1 762.7V1040.9M193.1 762.7V1040.9M248.1 762.7V1040.9M303.2 762.7V1040.9M358.2 762.7V1040.9M413.3 762.7V1040.9M468.3 762.7V1040.9M523.4 762.7V1040.9M83 762.7H523.4M83 818.3H523.4M83 874H523.4M83 929.6H523.4M83 985.3H523.4M83 1040.9H523.4" fill="none" stroke="#e3e3e3" stroke-width="0.9"/>
<text x="33.8" y="764.7" class="yl">1.00 · 10<tspan class="sup" dx="0.8" dy="-4">3</tspan></text>
<text x="33.8" y="820.9" class="yl">1.00 · 10<tspan class="sup" dx="0.8" dy="-4">2</tspan></text>
<text x="33.8" y="877.1" class="yl">1.00 · 10<tspan class="sup" dx="0.8" dy="-4">1</tspan></text>
<text x="33.8" y="933.3" class="yl">1.00 · 10<tspan class="sup" dx="0.8" dy="-4">0</tspan></text>
<text x="33.8" y="989.5" class="yl">1.00 · 10<tspan class="sup" dx="0.8" dy="-4">-1</tspan></text>
<text x="33.8" y="1045.7" class="yl">1.00 · 10<tspan class="sup" dx="0.8" dy="-4">-2</tspan></text>
<text x="83.2" y="1059.6" class="xl">20</text>
<text x="136" y="1059.6" class="xl">30</text>
<text x="188.7" y="1059.6" class="xl">40</text>
<text x="244.2" y="1059.6" class="xl">50</text>
<text x="300.1" y="1059.6" class="xl">60</text>
<text x="355.6" y="1059.6" class="xl">70</text>
<text x="410.9" y="1059.6" class="xl">80</text>
<text x="463.6" y="1059.6" class="xl">90</text>
<text x="519.6" y="1059.6" class="xl">100</text>
<text x="305.5" y="1083" class="at" textLength="130" lengthAdjust="spacingAndGlyphs">Temperature [°C]</text>
<text transform="translate(28.9 902) rotate(-90)" class="at" textLength="61.6" lengthAdjust="spacingAndGlyphs">tan δ [-]</text>
<polyline points="110.5,902.7 111.9,902.5 113.7,902.2 116,901.9 118.4,901.6 120.9,901.2 123.3,900.9 125.4,900.6 127.7,900.3 129.8,900 131.9,899.7 134,899.4 136.1,899.1 138.2,898.8 140.3,898.5 142.4,898.2 144.6,897.9 146.7,897.5 148.8,897.2 150.9,896.9 153,896.6 155.1,896.3 157.2,896 159.4,895.6 161.5,895.3 163.6,895 165.7,894.7 167.8,894.3 169.9,894 172.1,893.6 174.2,893.3 176.3,892.9 178.4,892.5 180.6,892.2 182.7,891.8 184.8,891.4 187,891.1 189.1,890.7 191.2,890.3 193.3,890 195.5,889.6 197.6,889.2 199.7,888.8 201.8,888.4 203.9,888 206,887.5 208.2,887.1 210.3,886.7 212.4,886.2 214.5,885.7 216.6,885.2 218.6,884.7 220.7,884.2 222.8,883.7 224.9,883.1 227.2,882.5 229,882 230.9,881.5 232.9,880.9 234.9,880.4 237,879.8 239,879.2 240.9,878.6 242.7,878 245,877.2 247.1,876.5 249.2,875.7 251.3,874.9 253.3,874.1 255.4,873.2 257.2,872.4 259.1,871.6 261,870.7 262.9,869.8 264.8,869 266.5,868.1 268.2,867.3 270.4,866.2 272.5,865.1 274.5,864.1 276.3,863.1 278,862.1 280.3,860.6 282.1,859.2 284,857.7 286,856.2 288,854.6 290,852.8 291.5,851.3 293.1,849.6 294.6,847.9 296,846.3 297.3,844.7 298.6,843.2 299.8,841.6 301,840 302.1,838.3 303.1,836.5 304.1,834.7 305,833 306.1,830.9 307.1,829 308,827 308.8,824.9 309.5,822.8 310,821 310.6,818" fill="none" stroke="#d9d9d9" stroke-width="5" stroke-linecap="round" stroke-linejoin="round"/>
<circle cx="310.6" cy="814" r="2.4" fill="#d9d9d9"/>
<circle cx="311.4" cy="808.6" r="2.4" fill="#d9d9d9"/>
<circle cx="312" cy="802.4" r="2.4" fill="#d9d9d9"/>
<circle cx="312.6" cy="787.6" r="2.4" fill="#d9d9d9"/>
<polyline points="110.5,905.3 111.9,905.1 113.7,904.7 116,904.3 118.4,903.9 120.9,903.4 123.3,903 125.4,902.6 127.7,902.2 129.8,901.8 131.9,901.4 134,901.1 136.1,900.7 138.2,900.3 140.3,899.9 142.4,899.5 144.6,899.1 146.7,898.8 148.8,898.4 150.9,898 153,897.6 155.1,897.2 157.2,896.8 159.4,896.5 161.5,896.1 163.6,895.7 165.7,895.3 167.8,895 169.9,894.6 172.1,894.2 174.2,893.9 176.3,893.5 178.4,893.1 180.6,892.7 182.7,892.4 184.8,892 187,891.6 189.1,891.2 191.2,890.8 193.3,890.4 195.5,890.1 197.6,889.7 199.7,889.3 201.8,888.9 203.9,888.5 206,888 208.2,887.6 210.3,887.1 212.4,886.7 214.5,886.2 216.6,885.7 218.6,885.2 220.7,884.8 222.8,884.3 224.9,883.7 227.2,883.1 229,882.6 230.9,882.1 232.9,881.5 234.9,880.9 237,880.3 239,879.8 240.9,879.2 242.7,878.6 245,877.9 247.1,877.2 249.2,876.5 251.3,875.7 253.3,875 255.4,874.2 257.6,873.4 259.8,872.5 262,871.6 264.2,870.7 266.2,869.8 268.2,868.9 270.4,867.9 272.4,867 274.4,866 276.2,865.1 278,864.2 280.1,863.2 282.1,862.2 284,861.2 286,860 288,858.6 290.1,857.2 292.1,855.6 294,854.1 295.7,852.6 297.2,851.1 298.6,849.5 300,848 301.8,846 303.4,844 305,842 306.4,840 307.8,838.1 309,836 310.1,833.7 311.1,831.3 312,829 312.8,826.9 313.4,824.9 314,823 314.7,820.1 315.2,818" fill="none" stroke="#7f7f7f" stroke-width="5" stroke-linecap="round" stroke-linejoin="round"/>
<circle cx="316" cy="811.4" r="2.4" fill="#7f7f7f"/>
<circle cx="316.6" cy="803.4" r="2.4" fill="#7f7f7f"/>
<circle cx="317.4" cy="795" r="2.4" fill="#7f7f7f"/>
<circle cx="318.4" cy="773.4" r="2.4" fill="#7f7f7f"/>
<polyline points="110.5,915.8 111.9,915.6 113.7,915.3 116,915 118.4,914.6 120.9,914.2 123.3,913.8 125.4,913.5 127.7,913.2 129.8,912.8 131.9,912.5 134,912.2 136.1,911.9 138.2,911.6 140.3,911.3 142.4,911 144.6,910.7 146.7,910.4 148.8,910.2 150.9,909.9 153,909.7 155.1,909.4 157.2,909.2 159.4,909 161.5,908.8 163.6,908.6 165.7,908.4 167.8,908.3 169.9,908.2 172.1,908 174.2,907.9 176.3,907.8 178.4,907.7 180.6,907.6 182.7,907.5 184.8,907.4 187,907.4 189.1,907.3 191.2,907.2 193.3,907.2 195.5,907.1 197.6,907.1 199.7,907 201.8,907 203.9,907 206,906.9 208.2,906.9 210.3,906.9 212.4,906.8 214.5,906.8 216.6,906.8 218.6,906.7 220.7,906.7 222.8,906.7 224.9,906.6 227.2,906.6 229.3,906.6 231.5,906.5 233.8,906.5 236.1,906.4 238.4,906.4 240.6,906.3 242.7,906.3 245,906.3 247.1,906.3 249.2,906.2 251.3,906.2 253.3,906.2 255.4,906.2 257.5,906.2 259.7,906.1 261.8,906.1 263.9,906.1 266.1,906 268.2,906 270.3,906 272.4,905.9 274.6,905.9 276.7,905.9 278.8,905.8 280.9,905.8 283,905.7 285.1,905.7 287.2,905.6 289.4,905.5 291.5,905.5 293.6,905.4 295.7,905.3 297.8,905.3 299.9,905.2 302.1,905.1 304.2,905.1 306.3,905 308.4,904.9 310.6,904.9 312.7,904.8 314.8,904.8 317,904.7 319.1,904.6 321.2,904.5 323.3,904.4 325.5,904.3 327.6,904.1 329.7,904 331.8,903.8 334,903.6 336.2,903.4 338.4,903.2 340.6,902.9 342.6,902.7 344.5,902.5 346.8,902.2 348.6,902 350.4,901.7 352.7,901.4 354.6,901.1 356.6,900.8 358.8,900.4 361,900.1 363.2,899.7 365.4,899.3 367.5,898.9 369.7,898.5 371.8,898.1 373.9,897.7 376.1,897.2 378.2,896.8 380.3,896.3 382.4,895.9 384.6,895.4 386.7,894.9 388.8,894.4 390.9,893.9 393,893.3 395.1,892.8 397.2,892.1 399.4,891.5 401.5,890.9 403.6,890.2 405.8,889.5 408,888.7 410.2,888 412.4,887.2 414.4,886.4 416.3,885.7 418.8,884.7 421.1,883.7 423.1,882.7 425,881.5 426.7,880.1 428.2,878.5 429.6,876.8 431,875.2 432.8,873.2 434.4,871.1 436,869 437.1,867.3 438.1,865.5 439.1,863.8 440,862 441.1,859.6 442.1,857.3 443,855 443.8,852.9 444.4,850.9 445,849 445.8,846.1 446.4,844" fill="none" stroke="#595959" stroke-width="5" stroke-linecap="round" stroke-linejoin="round"/>
<circle cx="447.2" cy="841" r="2.4" fill="#595959"/>
<circle cx="448" cy="836" r="2.4" fill="#595959"/>
<circle cx="448.8" cy="830" r="2.4" fill="#595959"/>
<circle cx="449.8" cy="817.6" r="2.4" fill="#595959"/>
<circle cx="451.3" cy="802.4" r="2.4" fill="#595959"/>
<polyline points="110.5,916.3 111.9,916.1 113.7,915.9 116,915.6 118.4,915.3 120.9,915 123.3,914.8 125.4,914.5 127.7,914.2 129.8,914 131.9,913.7 134,913.5 136.1,913.2 138.2,913 140.3,912.8 142.4,912.6 144.6,912.4 146.7,912.2 148.8,912 150.9,911.8 153,911.6 155.1,911.5 157.2,911.3 159.4,911.2 161.5,911 163.6,910.9 165.7,910.8 167.8,910.7 169.9,910.6 172.1,910.5 174.2,910.5 176.3,910.4 178.4,910.4 180.6,910.3 182.7,910.3 184.8,910.3 187,910.3 189.1,910.3 191.2,910.3 193.3,910.3 195.5,910.3 197.6,910.3 199.7,910.4 201.8,910.4 203.9,910.4 206,910.5 208.2,910.5 210.3,910.6 212.4,910.6 214.5,910.7 216.6,910.8 218.6,910.8 220.7,910.9 222.8,910.9 224.9,911 227.2,911 229.3,911 231.5,911.1 233.8,911.1 236.1,911.2 238.4,911.2 240.6,911.2 242.7,911.3 245,911.4 247.1,911.5 249.2,911.5 251.3,911.6 253.3,911.7 255.4,911.8 257.5,911.9 259.7,912 261.8,912.1 263.9,912.1 266.1,912.2 268.2,912.3 270.3,912.4 272.4,912.4 274.6,912.5 276.7,912.6 278.8,912.6 280.9,912.7 283,912.8 285.1,912.8 287.2,912.9 289.4,912.9 291.5,913 293.6,913 295.7,913 297.8,913.1 299.9,913.1 302.1,913.1 304.2,913.1 306.3,913.1 308.4,913.1 310.6,913.1 312.7,913.1 314.8,913.1 317,913.1 319.1,913.1 321.2,913.1 323.3,913.1 325.5,913 327.6,913 329.7,912.9 331.8,912.9 333.9,912.9 336,912.8 338.1,912.8 340.3,912.7 342.4,912.7 344.5,912.6 346.7,912.5 348.9,912.4 351.1,912.4 353.3,912.3 355.3,912.2 357.2,912.1 359.5,912 361.3,912 363.1,911.9 365.4,911.8 367.3,911.7 369.3,911.6 371.5,911.5 373.8,911.4 376,911.3 378.2,911.2 380.3,911.1 382.4,910.9 384.6,910.8 386.7,910.6 388.8,910.5 390.9,910.3 393,910.1 395.1,909.9 397.2,909.7 399.4,909.5 401.5,909.3 403.6,909 405.7,908.7 407.8,908.4 409.9,908.1 412.1,907.8 414.2,907.5 416.3,907.1 418.4,906.7 420.6,906.3 422.7,905.9 424.8,905.5 427,905.1 429.1,904.6 431.2,904.1 433.4,903.6 435.5,903.1 437.6,902.6 439.7,902 441.8,901.5 443.9,901 446,900.5 448.1,900 450.1,899.5 452.1,899 454,898.4 456.1,897.7 458.2,896.9 460.1,896 462,895.2 464,894.3 466,893.4 468,892.5 470,891.5 472,890.5 474,889.5 476,888.5 478.1,887.4 480.1,886.3 482.1,885.2 484,884.1 486.2,882.7 488.2,881.3 490.1,879.9 492,878.4 493.9,876.8 495.7,875.2 497.4,873.6 499,872 500.9,870 502.5,868 504,866 505.5,864 506.8,862 508,860 509,858 509.8,855.9 510.6,854 511.6,851.4 512.4,849 513.1,846.7 513.6,845" fill="none" stroke="#000000" stroke-width="5" stroke-linecap="round" stroke-linejoin="round"/>
<circle cx="514.2" cy="842.6" r="2.4" fill="#000000"/>
<circle cx="515" cy="837.4" r="2.4" fill="#000000"/>
<circle cx="515.8" cy="831" r="2.4" fill="#000000"/>
<circle cx="516.8" cy="819.6" r="2.4" fill="#000000"/>
<circle cx="517.8" cy="800.6" r="2.4" fill="#000000"/>
<polyline points="110.5,968 112,967.8 114.1,967.4 116.8,967 120,966.5 121.6,966.2 123.3,965.9 125.2,965.6 127.1,965.3 129.1,964.9 131.3,964.6 133.5,964.2 135.8,963.9 138.2,963.5 140.1,963.2 142,963 144,962.7 146.1,962.4 148.3,962.2 150.4,961.9 152.6,961.6 154.9,961.4 157.1,961.1 159.3,960.8 161.5,960.6 163.6,960.3 165.8,960 168,959.8 170.3,959.5 172.6,959.3 174.9,959 177.1,958.8 179.4,958.5 181.5,958.3 183.6,958 185.6,957.8 187.4,957.5 189.1,957.2 192,956.6 194.5,956 196.6,955.3 198.4,954.7 200.1,954 201.8,953.3 204,952.2 205.8,951.1 207.4,950 209.4,948.9 211.3,948 213.4,947 215.6,946 217.7,945.1 219.6,944.2 221.6,943.3 223.4,942.4 225.2,941.6 227.2,940.7 229.1,939.9 231.3,938.9 233.5,938 235.6,937.1 237.6,936.2 239.7,935.2 241.5,934.2 243.3,933.3 245.3,932.4 247.1,931.6 249,930.9 251.1,930.1 253.2,929.4 255.4,928.7 257.4,928.1 259.5,927.6 261.6,927.1 263.8,926.5 266,926 268.2,925.5 270.3,925 272.4,924.5 274.6,924 276.7,923.5 278.8,923 280.9,922.5 283,921.9 285.1,921.3 287.2,920.7 289.4,920 291.5,919.4 293.6,918.8 295.7,918.2 297.8,917.6 299.9,917.1 302.1,916.5 304.2,915.9 306.3,915.3 308.5,914.7 310.7,914.1 312.9,913.5 315,912.8 317.1,912.1 319.1,911.3 321.3,910.2 323.4,909 325.5,907.7 327.4,906.4 329.2,905.1 330.9,903.8 332.5,902.5 333.9,901.1 335.4,899.9 336.9,898.7 338.9,897.4 340.8,896.2 342.8,895.2 344.5,894.1 346.5,892.7 348.2,891.5 350,890.3 352,889.3 354.1,888.4 356,887.3 357.8,885.8 359.4,884.1 361,882.1 362.1,880.4 363.1,878.4 364.1,876.4 365,874.5 365.8,872.6 366.6,870.7 367.3,868.8 368,867 368.7,864.7 369.4,862.4 370,860 370.5,858 371,856 371.5,854 372,852 372.7,849.6 373.3,847.3 374,845 374.7,842.7 375.3,840.3 376,838 376.7,835.6 377.4,833.3 378,831 378.5,828.9 379,826.9 379.4,825 380,822.4 380.6,820 381.1,817.5 381.4,815.6" fill="none" stroke="#c2da9e" stroke-width="5" stroke-linecap="round" stroke-linejoin="round"/>
<circle cx="383" cy="807.4" r="2.4" fill="#c2da9e"/>
<polyline points="110.5,965.6 111.9,965.4 113.7,965.2 116,964.9 118.4,964.6 120.9,964.4 123.3,964.1 125.4,963.9 127.7,963.7 129.8,963.6 131.9,963.6 134,963.5 136.1,963.4 138.2,963.3 140.3,963.1 142.4,962.9 144.6,962.7 146.7,962.5 148.8,962.2 150.9,962 153,961.7 155.1,961.4 157.2,961.1 159.4,960.9 161.5,960.6 163.6,960.3 165.7,960.1 167.8,959.8 169.9,959.6 172.1,959.4 174.2,959.2 176.3,959 178.4,958.8 180.6,958.6 182.7,958.5 184.8,958.2 187,958 189.1,957.6 191.2,957.1 193.3,956.6 195.5,955.9 197.6,955.3 199.7,954.6 201.8,953.9 203.9,953.2 206,952.4 208.2,951.6 210.3,950.9 212.4,950.1 214.5,949.4 216.6,948.8 218.6,948.2 220.7,947.6 222.8,947.1 224.9,946.4 227.2,945.7 229,945.1 230.9,944.4 232.9,943.7 234.9,942.9 237,942.1 239,941.4 240.9,940.7 242.7,940 245,939.2 247.1,938.4 249.2,937.7 251.3,936.9 253.3,936.2 255.4,935.5 257.5,934.8 259.7,934 261.8,933.3 263.9,932.6 266.1,931.9 268.2,931.3 270.3,930.8 272.4,930.4 274.6,930 276.7,929.7 278.8,929.3 280.9,928.9 283,928.4 285.1,927.8 287.2,927.3 289.4,926.7 291.5,926.2 293.6,925.7 295.7,925.3 297.8,924.9 299.9,924.6 302.1,924.3 304.2,924 306.3,923.7 308.4,923.4 310.6,923.1 312.7,922.8 314.8,922.5 317,922.2 319.1,921.8 321.3,921.4 323.5,921 325.7,920.5 327.9,920.1 329.9,919.6 331.8,919.1 334.1,918.4 336.1,917.6 337.9,916.8 340,916 341.9,915.3 343.9,914.5 346,913.7 348.1,912.9 350.2,912.2 352.2,911.6 354.3,911.1 356.3,910.7 358.4,910.2 360.4,909.6 362.5,908.9 364.6,908.2 366.7,907.5 368.7,906.7 370.5,905.8 372.4,904.7 374,903.5 375.5,902.2 376.9,900.7 378.3,898.9 379.6,897 380.8,894.9 382,892.8 383.1,890.8 384.1,888.7 385,886.6 386,884.5 387,882.3 388.1,880.1 389.1,878 390,876 391.1,873.8 392.1,871.8 393,870 394.4,867.4 395.6,865 396.8,862.2 397.6,860" fill="none" stroke="#749d38" stroke-width="5" stroke-linecap="round" stroke-linejoin="round"/>
<circle cx="399.4" cy="853.6" r="2.4" fill="#749d38"/>
<circle cx="400.4" cy="844" r="2.4" fill="#749d38"/>
<circle cx="401.6" cy="838" r="2.4" fill="#749d38"/>
<circle cx="403" cy="814.6" r="2.4" fill="#749d38"/>
<polyline points="110.5,966.9 111.9,966.8 113.7,966.6 116,966.4 118.4,966.2 120.9,966 123.3,965.8 125.4,965.6 127.7,965.4 129.8,965.3 131.9,965.2 134,965.1 136.1,964.9 138.2,964.8 140.3,964.6 142.4,964.5 144.6,964.3 146.7,964.1 148.8,963.9 150.9,963.8 153,963.7 155.1,963.6 157.2,963.5 159.4,963.4 161.5,963.3 163.6,963.3 165.7,963.3 167.8,963.3 169.9,963.3 172.1,963.3 174.2,963.4 176.3,963.5 178.4,963.6 180.6,963.8 182.7,964 184.8,964.2 187,964.4 189.1,964.5 191.2,964.6 193.3,964.6 195.5,964.7 197.6,964.6 199.7,964.6 201.8,964.4 203.9,964.2 206,963.8 208.2,963.4 210.3,963 212.4,962.6 214.5,962.1 216.6,961.6 218.6,961.2 220.7,960.7 222.8,960.2 224.9,959.6 227.2,958.9 229,958.3 230.9,957.6 232.9,956.9 234.9,956.1 237,955.3 239,954.5 240.9,953.8 242.7,953.1 245,952.3 247.1,951.5 249.2,950.8 251.3,950.1 253.3,949.4 255.4,948.7 257.5,948 259.7,947.2 261.8,946.5 263.9,945.8 266.1,945.1 268.2,944.4 270.3,943.8 272.4,943.2 274.6,942.7 276.7,942.2 278.8,941.6 280.9,941.1 283,940.5 285.1,940 287.2,939.4 289.4,938.9 291.5,938.3 293.6,937.8 295.7,937.3 297.8,936.8 299.9,936.3 302.1,935.8 304.2,935.3 306.3,934.9 308.4,934.5 310.6,934.2 312.7,933.9 314.8,933.6 317,933.3 319.1,933 321.3,932.7 323.5,932.5 325.7,932.2 327.9,932 329.9,931.8 331.8,931.5 334.1,931.1 336.1,930.6 337.9,930.2 340,929.7 341.9,929.3 343.9,928.9 346,928.6 348.1,928.1 350.2,927.7 352.2,927.2 354.3,926.7 356.3,926.1 358.4,925.6 360.4,925.1 362.5,924.7 364.6,924.3 366.6,923.9 368.6,923.6 370.5,923.3 373.3,922.9 375.9,922.6 378.2,922.1 381,921 383.3,919.5 384.7,918 385.9,916.3 387.1,914.4 388.3,912.4 389.5,910.4 390.9,908.1 392.1,906.2 393.3,904.2 394.6,902.2 396,900.3 397.5,898.5 399,896.6 400.5,894.9 402,893.3 403.8,891.4 405.4,889.8 407,888 408.4,886.1 409.7,884 411,882 412.2,880 413.3,878 414.4,876 415.3,874 416.2,872 417,870 417.7,868 418.4,865.9 419,864 419.8,861.4 420.6,859 421.4,856.2 422,854" fill="none" stroke="#4f6b2b" stroke-width="5" stroke-linecap="round" stroke-linejoin="round"/>
<circle cx="423.4" cy="848.6" r="2.4" fill="#4f6b2b"/>
<circle cx="424.6" cy="838.6" r="2.4" fill="#4f6b2b"/>
<circle cx="426" cy="825.6" r="2.4" fill="#4f6b2b"/>
<circle cx="427" cy="809" r="2.4" fill="#4f6b2b"/>
<rect x="335.2" y="958.5" width="179.6" height="75.6" fill="#fff" stroke="#555" stroke-width="1"/>
<circle cx="342.5" cy="966.8" r="3.6" fill="#d9d9d9"/>
<text x="348.5" y="970.7" class="lg">BIT 70/100</text>
<circle cx="342.5" cy="986.1" r="3.6" fill="#7f7f7f"/>
<text x="348.5" y="990" class="lg">BIT 50/70</text>
<circle cx="342.5" cy="1005.3" r="3.6" fill="#595959"/>
<text x="348.5" y="1009.2" class="lg">MOD SF</text>
<circle cx="342.5" cy="1024.6" r="3.6" fill="#000000"/>
<text x="348.5" y="1028.5" class="lg">MOD HD</text>
<circle cx="407.9" cy="966.8" r="3.6" fill="#4f6b2b"/>
<text x="413.9" y="970.7" class="lg">0.35 O/R - 6% SBS</text>
<circle cx="407.9" cy="986.1" r="3.6" fill="#749d38"/>
<text x="413.9" y="990" class="lg">0.35 O/R - 4% SBS</text>
<circle cx="407.9" cy="1005.3" r="3.6" fill="#c2da9e"/>
<text x="413.9" y="1009.2" class="lg">0.35 O/R - 2% SBS</text>
<text x="273.7" y="1113.8" class="cap">(<tspan font-weight="bold">c</tspan>)</text>
</svg>
</body></html>
